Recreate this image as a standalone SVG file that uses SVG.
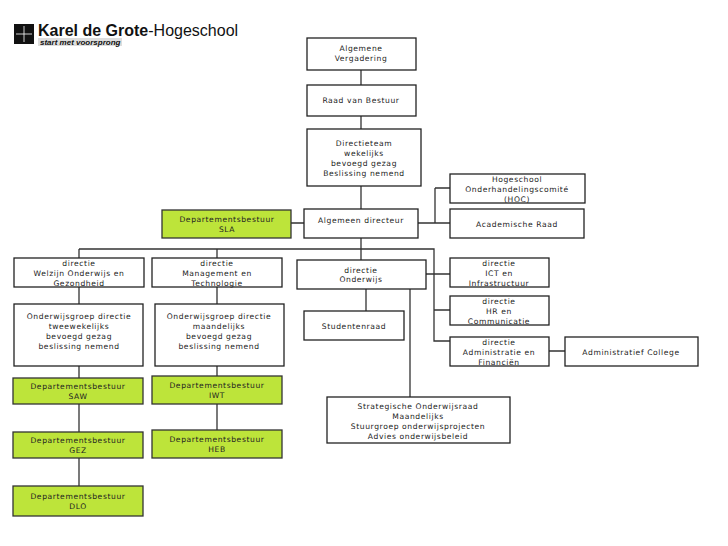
<svg xmlns="http://www.w3.org/2000/svg" width="728" height="546" viewBox="0 0 728 546">
<style>
.b{fill:#fff;stroke:#222;stroke-width:1.3}
.g{fill:#bde43a;stroke:#333;stroke-width:1.3}
text{font-family:"DejaVu Sans",Verdana,sans-serif;font-size:7.6px;fill:#222;text-anchor:middle;letter-spacing:0.6px}
#c path{stroke:#333;stroke-width:1.3;fill:none}
</style>
<rect width="728" height="546" fill="#fff"/>
<g id="logo">
<rect x="14" y="24" width="20" height="20" fill="#111"/>
<path d="M24 26v16M16 34h16" stroke="#fff" stroke-width="0.8"/>
<text x="38" y="36" style="font-family:'Liberation Sans',Arial,sans-serif;font-size:16px;text-anchor:start;letter-spacing:0;font-weight:bold;fill:#111">Karel de Grote<tspan font-weight="normal">-Hogeschool</tspan></text>
<rect x="38" y="38" width="84" height="8" fill="#ddd"/>
<text x="40" y="45" style="font-family:'Liberation Sans',Arial,sans-serif;font-size:8px;text-anchor:start;letter-spacing:0;font-weight:bold;font-style:italic;fill:#111">start met voorsprong</text>
</g>
<g id="c">
<path d="M361 70V85M361 116V129M361 186V209M291 223H304M418 223H435M435 188V223H450M435 188H450"/>
<path d="M361 238V260M79 249H434V341H450M79 249V258M217 249V258M426 274H450M434 310H450M549 351H565"/>
<path d="M79 287V304M79 366V378M79 404V432M79 458V486M217 287V304M217 366V376M217 404V430M366 289V311M410 289V397"/>
</g>
<g id="n1"><rect class="b" x="307" y="38" width="109" height="32"/><text x="361" y="51">Algemene</text><text x="361" y="61">Vergadering</text></g>
<g id="n2"><rect class="b" x="307" y="85" width="109" height="31"/><text x="361" y="103">Raad van Bestuur</text></g>
<g id="n3"><rect class="b" x="307" y="129" width="114" height="57"/><text x="364" y="146">Directieteam</text><text x="364" y="156">wekelijks</text><text x="364" y="166">bevoegd gezag</text><text x="364" y="176">Beslissing nemend</text></g>
<g id="n4"><rect class="b" x="304" y="209" width="114" height="29"/><text x="361" y="223">Algemeen directeur</text></g>
<g id="n5"><rect class="b" x="450" y="174" width="135" height="29"/><text x="517" y="182">Hogeschool</text><text x="517" y="192">Onderhandelingscomité</text><text x="517" y="202">(HOC)</text></g>
<g id="n6"><rect class="b" x="450" y="209" width="134" height="29"/><text x="517" y="227">Academische Raad</text></g>
<g id="n7"><rect class="g" x="162" y="210" width="129" height="28"/><text x="227" y="222">Departementsbestuur</text><text x="227" y="232">SLA</text></g>
<g id="n8"><rect class="b" x="14" y="258" width="130" height="29"/><text x="79" y="266">directie</text><text x="79" y="276">Welzijn Onderwijs en</text><text x="79" y="286">Gezondheid</text></g>
<g id="n9"><rect class="b" x="152" y="258" width="130" height="29"/><text x="217" y="266">directie</text><text x="217" y="276">Management en</text><text x="217" y="286">Technologie</text></g>
<g id="n10"><rect class="b" x="297" y="260" width="129" height="29"/><text x="361" y="273">directie</text><text x="361" y="282">Onderwijs</text></g>
<g id="n11"><rect class="b" x="450" y="258" width="99" height="29"/><text x="499" y="266">directie</text><text x="499" y="276">ICT en</text><text x="499" y="286">Infrastructuur</text></g>
<g id="n12"><rect class="b" x="450" y="296" width="99" height="29"/><text x="499" y="304">directie</text><text x="499" y="314">HR en</text><text x="499" y="324">Communicatie</text></g>
<g id="n13"><rect class="b" x="450" y="337" width="99" height="29"/><text x="499" y="345">directie</text><text x="499" y="355">Administratie en</text><text x="499" y="365">Financiën</text></g>
<g id="n14"><rect class="b" x="565" y="337" width="133" height="29"/><text x="631" y="355">Administratief College</text></g>
<g id="n15"><rect class="b" x="14" y="304" width="129" height="62"/><text x="79" y="319">Onderwijsgroep directie</text><text x="79" y="329">tweewekelijks</text><text x="79" y="339">bevoegd gezag</text><text x="79" y="349">beslissing nemend</text></g>
<g id="n16"><rect class="b" x="155" y="304" width="129" height="62"/><text x="219" y="319">Onderwijsgroep directie</text><text x="219" y="329">maandelijks</text><text x="219" y="339">bevoegd gezag</text><text x="219" y="349">beslissing nemend</text></g>
<g id="n17"><rect class="b" x="304" y="311" width="100" height="29"/><text x="354" y="329">Studentenraad</text></g>
<g id="n18"><rect class="b" x="327" y="397" width="183" height="46"/><text x="418" y="409">Strategische Onderwijsraad</text><text x="418" y="419">Maandelijks</text><text x="418" y="429">Stuurgroep onderwijsprojecten</text><text x="418" y="439">Advies onderwijsbeleid</text></g>
<g id="n19"><rect class="g" x="13" y="378" width="130" height="26"/><text x="78" y="389">Departementsbestuur</text><text x="78" y="399">SAW</text></g>
<g id="n20"><rect class="g" x="13" y="432" width="130" height="26"/><text x="78" y="443">Departementsbestuur</text><text x="78" y="453">GEZ</text></g>
<g id="n21"><rect class="g" x="13" y="486" width="130" height="30"/><text x="78" y="499">Departementsbestuur</text><text x="78" y="509">DLO</text></g>
<g id="n22"><rect class="g" x="152" y="376" width="130" height="28"/><text x="217" y="388">Departementsbestuur</text><text x="217" y="398">IWT</text></g>
<g id="n23"><rect class="g" x="152" y="430" width="130" height="28"/><text x="217" y="442">Departementsbestuur</text><text x="217" y="452">HEB</text></g>
</svg>
